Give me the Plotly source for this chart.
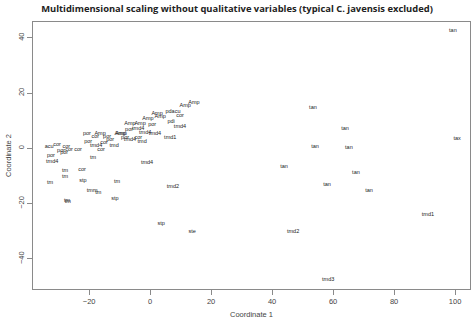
import plotly.graph_objects as go

# MDS coordinates of specimens, labelled by group code
labels = [
    "tan", "tan", "tan", "tan", "tan", "tax", "tan", "tan", "tan", "tan",
    "tmd1", "tmd2", "tmd3", "tmd2", "stp", "ste",
    "Amp", "Amp", "pdacu", "cor", "Amp", "Amp", "Amp", "pdi", "tmd4",
    "Amp", "Amp", "por", "tmd4", "por", "tmd4", "tmd4", "tmd1",
    "Amp", "Amp", "por", "por", "tmd4", "cor", "tmd",
    "cor", "por", "Amp", "tmd4", "cor", "por", "tmd", "cor", "por",
    "acu", "cor", "por", "cor", "cor", "por", "por", "cor", "tmd4",
    "tm", "tmd4", "tm", "cor", "tm", "tm", "stp", "tm", "tmm", "tm",
    "tm", "tm", "stp",
]
coord1 = [
    99.3, 53.4, 63.9, 54.1, 65.2, 100.7, 43.9, 67.5, 58.0, 71.8,
    91.1, 46.9, 58.4, 7.5, 3.6, 13.8,
    11.5, 14.4, 7.5, 9.8, 2.3, 3.3, -0.7, 6.9, 9.8,
    -3.3, -6.6, 0.7, -3.9, -6.9, -1.6, 1.6, 6.6,
    -9.8, -9.5, -14.1, -8.2, -6.6, -3.9, -2.6,
    -18.0, -20.3, -16.4, -17.7, -15.1, -13.1, -11.8, -16.1, -20.7,
    -33.1, -30.5, -29.2, -27.5, -26.6, -32.5, -28.2, -23.6, -32.1,
    -18.7, -1.0, -27.9, -22.3, -27.9, -32.8, -22.0, -10.8, -19.0, -17.0,
    -27.2, -27.0, -11.5,
]
coord2 = [
    42.4, 14.9, 7.3, 0.5, 0.1, 3.4, -6.8, -8.9, -13.2, -15.4,
    -24.0, -30.2, -47.5, -14.0, -27.3, -30.2,
    15.6, 16.7, 13.1, 11.7, 12.7, 11.3, 10.9, 9.5, 7.7,
    9.1, 9.1, 8.4, 7.3, 6.6, 5.5, 5.2, 3.7,
    5.2, 5.4, 4.1, 3.7, 3.0, 3.7, 2.3,
    4.1, 2.6, 5.2, 0.8, 1.9, 3.0, 0.8, -0.6, 5.2,
    0.5, 1.2, -1.0, 0.5, -0.3, -2.8, -1.7, -0.6, -4.9,
    -3.5, -5.3, -8.2, -7.8, -10.3, -12.5, -11.8, -12.2, -15.4, -16.1,
    -19.0, -19.2, -18.3,
]

x_ticks = [-20, 0, 20, 40, 60, 80, 100]
y_ticks = [-40, -20, 0, 20, 40]

fig = go.Figure(
    go.Scatter(
        x=coord1, y=coord2, text=labels, mode="text",
        textposition="middle center",
        textfont=dict(family="Liberation Sans, Arial, sans-serif", size=5.5, color="#222"),
        hoverinfo="x+y+text",
    )
)

axis_common = dict(
    showgrid=False, zeroline=False,
    showline=True, linecolor="#8a8a8a", linewidth=1, mirror=True,
    ticks="outside", ticklen=5, tickcolor="#8a8a8a", tickwidth=1,
    tickfont=dict(family="Liberation Sans, Arial, sans-serif", size=7.5, color="#444"),
)

fig.update_layout(
    width=474, height=323,
    margin=dict(l=33, r=4, t=22, b=34),
    paper_bgcolor="white", plot_bgcolor="white",
    showlegend=False,
    title=dict(
        text="<b>Multidimensional scaling without qualitative variables (typical C. javensis excluded)</b>",
        x=0.5, xanchor="center", y=0.982, yanchor="top",
        font=dict(family="Open Sans, sans-serif", size=9.4, color="#222"),
    ),
    xaxis=dict(
        axis_common, range=[-38.4, 104.9], tickvals=x_ticks,
        title=dict(text="Coordinate 1", standoff=6,
                   font=dict(family="Liberation Sans, Arial, sans-serif", size=7.5, color="#444")),
    ),
    yaxis=dict(
        axis_common, range=[-50.9, 45.7], tickvals=y_ticks, tickangle=-90,
        title=dict(text="Coordinate 2", standoff=4,
                   font=dict(family="Liberation Sans, Arial, sans-serif", size=7.5, color="#444")),
    ),
)

fig.write_html("out.html")
